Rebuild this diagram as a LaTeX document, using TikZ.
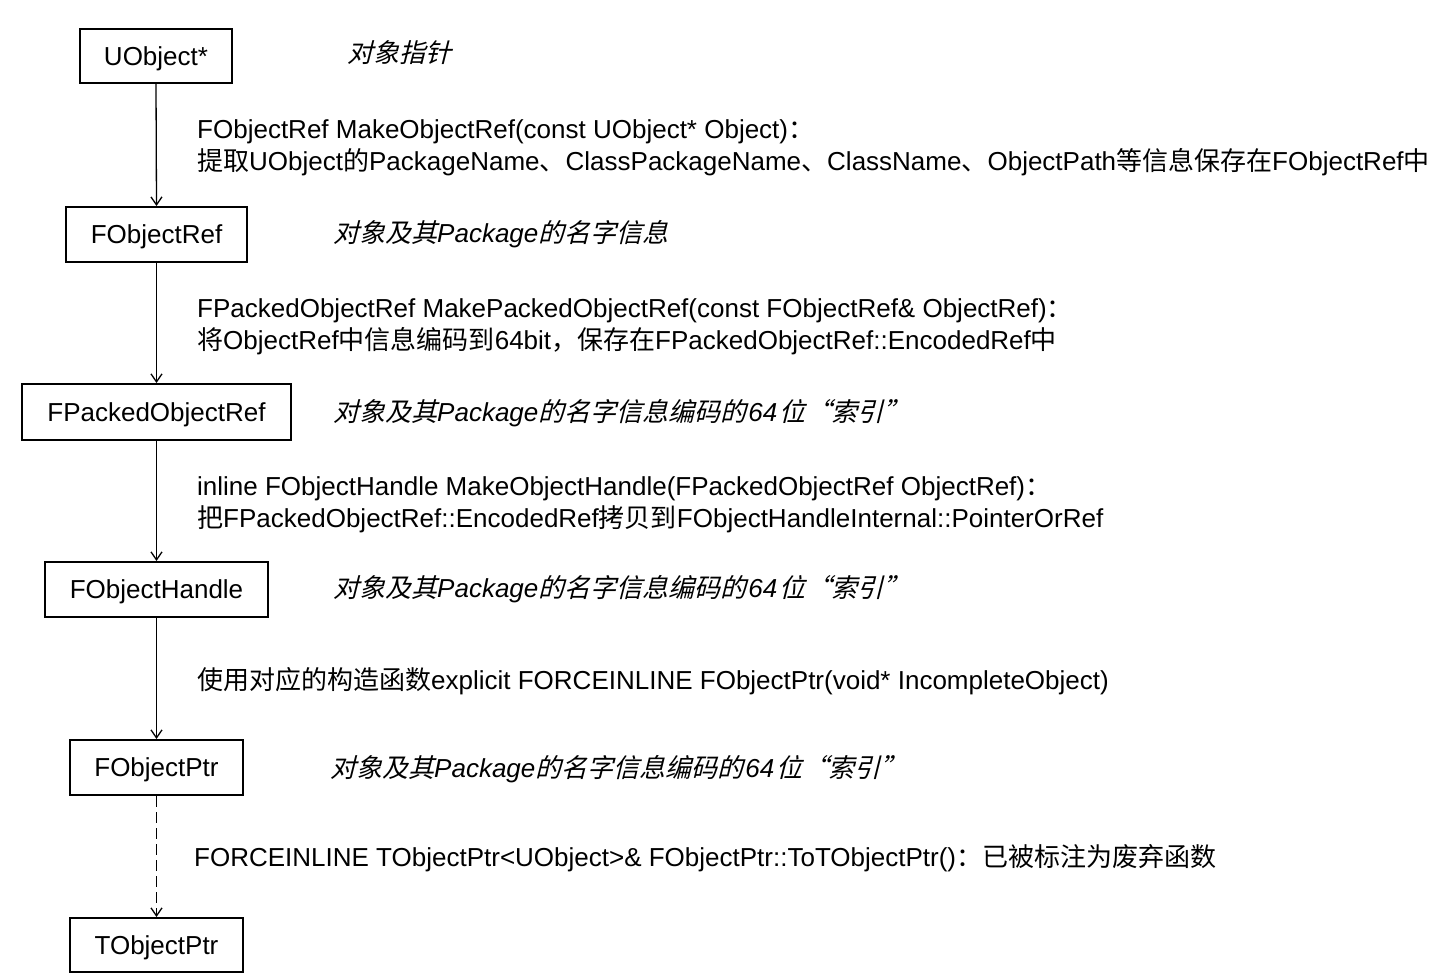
\documentclass[tikz,border=0pt]{standalone}
\usepackage{fontspec}
\setmainfont{Liberation Sans}
\newfontfamily\cjkfont{Noto Sans CJK SC}
\newfontfamily\cjkifont{Noto Sans CJK SC}[FakeSlant=0.25]
\newcommand\Cz[1]{{\cjkfont #1}}
\newcommand\Ci[1]{{\cjkifont #1}}
\usetikzlibrary{arrows.meta}
\tikzset{
  box/.style={draw, line width=2pt, inner sep=0pt, text height=18.6pt, text depth=0pt, font=\fontsize{26}{30}\selectfont},
  conn/.style={line width=1.3pt, -{Straight Barb[length=8pt,width=11pt]}},
  txt/.style={anchor=base west, inner sep=0pt, font=\fontsize{26}{30}\selectfont},
  cmt/.style={anchor=base west, inner sep=0pt, font=\fontsize{26}{30}\selectfont\itshape},
}
\newcommand\IdxText{\Ci{对象及其}Package\Ci{的名字信息编码的}\kern2pt 64\kern2pt\Ci{位“索引”}}
\begin{document}
\begin{tikzpicture}[x=1pt,y=-1pt]
\useasboundingbox (0,0) rectangle (1440,979);
\fill[white] (0,0) rectangle (1440,979);
% boxes
\node[box, minimum width=152pt, minimum height=54pt] (u) at (156,56) {UObject*};
\node[box, minimum width=181pt, minimum height=55pt] (r) at (156.5,234.5) {FObjectRef};
\node[box, minimum width=269pt, minimum height=56pt] (p) at (156.5,412) {FPackedObjectRef};
\node[box, minimum width=223pt, minimum height=55pt] (h) at (156.5,589.5) {FObjectHandle};
\node[box, minimum width=173pt, minimum height=55pt] (f) at (156.5,767.5) {FObjectPtr};
\node[box, minimum width=173pt, minimum height=54pt] (t) at (156.5,945) {TObjectPtr};
% connectors
\draw[conn] (u.south) -- (r.north);
\draw[conn] (r.south) -- (p.north);
\draw[conn] (p.south) -- (h.north);
\draw[conn] (h.south) -- (f.north);
\draw[conn, dash pattern=on 11pt off 5pt] (f.south) -- (t.north);
% comments
\node[cmt] (c1) at (347,63) {\Ci{对象指针}};
\node[cmt] (c2) at (333,242) {\Ci{对象及其}Package\Ci{的名字信息}};
\node[cmt] (c3) at (333,421) {\IdxText};
\node[cmt] (c4) at (333,597) {\IdxText};
\node[cmt] (c5) at (330,777) {\IdxText};
% connector texts
\node[txt] (a1) at (197,139) {FObjectRef MakeObjectRef(const UObject* Object)\Cz{：}};
\node[txt] (a2) at (197,171) {\Cz{提取}UObject\Cz{的}PackageName\Cz{、}ClassPackageName\Cz{、}ClassName\Cz{、}ObjectPath\Cz{等信息保存在}FObjectRef\Cz{中}};
\node[txt] (b1) at (197,317) {FPackedObjectRef MakePackedObjectRef(const FObjectRef\& ObjectRef)\Cz{：}};
\node[txt] (b2) at (197,349) {\Cz{将}ObjectRef\Cz{中信息编码到}64bit\Cz{，保存在}FPackedObjectRef::EncodedRef\Cz{中}};
\node[txt] (d1) at (197,495) {inline FObjectHandle MakeObjectHandle(FPackedObjectRef ObjectRef)\Cz{：}};
\node[txt] (d2) at (197,527) {\Cz{把}FPackedObjectRef::EncodedRef\Cz{拷贝到}FObjectHandleInternal::PointerOrRef};
\node[txt] (e1) at (197,689) {\Cz{使用对应的构造函数}explicit FORCEINLINE FObjectPtr(void* IncompleteObject)};
\node[txt] (g1) at (194,866) {FORCEINLINE TObjectPtr<UObject>\& FObjectPtr::ToTObjectPtr()\Cz{：已被标注为废弃函数}};
\end{tikzpicture}
\end{document}
